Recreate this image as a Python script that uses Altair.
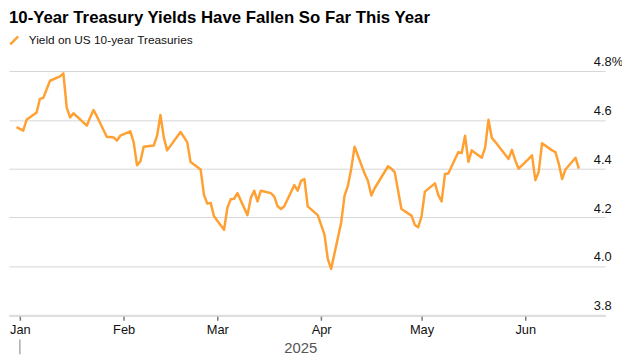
import altair as alt
import pandas as pd

dates = [
    "2024-12-31", "2025-01-02", "2025-01-03", "2025-01-06", "2025-01-07", "2025-01-08",
    "2025-01-10", "2025-01-13", "2025-01-14", "2025-01-15", "2025-01-16", "2025-01-17",
    "2025-01-21", "2025-01-22", "2025-01-23", "2025-01-24", "2025-01-27", "2025-01-28",
    "2025-01-29", "2025-01-30", "2025-01-31",
    "2025-02-03", "2025-02-04", "2025-02-05", "2025-02-06", "2025-02-07", "2025-02-10",
    "2025-02-11", "2025-02-12", "2025-02-13", "2025-02-14", "2025-02-18", "2025-02-19",
    "2025-02-20", "2025-02-21", "2025-02-24", "2025-02-25", "2025-02-26", "2025-02-27",
    "2025-02-28",
    "2025-03-03", "2025-03-04", "2025-03-05", "2025-03-06", "2025-03-07", "2025-03-10",
    "2025-03-11", "2025-03-12", "2025-03-13", "2025-03-14", "2025-03-17", "2025-03-18",
    "2025-03-19", "2025-03-20", "2025-03-21", "2025-03-24", "2025-03-25", "2025-03-26",
    "2025-03-27", "2025-03-28", "2025-03-31",
    "2025-04-01", "2025-04-02", "2025-04-03", "2025-04-04", "2025-04-07", "2025-04-08",
    "2025-04-09", "2025-04-10", "2025-04-11", "2025-04-14", "2025-04-15", "2025-04-16",
    "2025-04-17", "2025-04-21", "2025-04-22", "2025-04-23", "2025-04-24", "2025-04-25",
    "2025-04-28", "2025-04-29", "2025-04-30",
    "2025-05-01", "2025-05-02", "2025-05-05", "2025-05-06", "2025-05-07", "2025-05-08",
    "2025-05-09", "2025-05-12", "2025-05-13", "2025-05-14", "2025-05-15", "2025-05-16",
    "2025-05-19", "2025-05-20", "2025-05-21", "2025-05-22", "2025-05-23", "2025-05-27",
    "2025-05-28", "2025-05-29", "2025-05-30",
    "2025-06-02", "2025-06-03", "2025-06-04", "2025-06-05", "2025-06-06", "2025-06-09",
    "2025-06-10", "2025-06-11", "2025-06-12", "2025-06-13", "2025-06-16", "2025-06-17",
]

yields = [
    4.57, 4.556, 4.60, 4.63, 4.686, 4.69,
    4.76, 4.778, 4.79, 4.65, 4.61, 4.627,
    4.576, 4.61, 4.64, 4.615, 4.53, 4.53,
    4.528, 4.515, 4.535,
    4.553, 4.508, 4.414, 4.43, 4.49, 4.495,
    4.535, 4.62, 4.528, 4.475, 4.55, 4.53,
    4.508, 4.427, 4.397, 4.293, 4.257, 4.26,
    4.205,
    4.15, 4.24, 4.275, 4.277, 4.30, 4.21,
    4.28, 4.31, 4.266, 4.31, 4.30, 4.286,
    4.246, 4.235, 4.246, 4.333, 4.31, 4.35,
    4.358, 4.246, 4.21,
    4.17, 4.13, 4.03, 3.99, 4.18, 4.29,
    4.33, 4.40, 4.49, 4.38, 4.35, 4.29,
    4.32, 4.41, 4.40, 4.385, 4.31, 4.235,
    4.208, 4.17, 4.16,
    4.205, 4.306, 4.34, 4.293, 4.266, 4.378,
    4.38, 4.468, 4.464, 4.535, 4.428, 4.475,
    4.445, 4.486, 4.60, 4.526, 4.51, 4.44,
    4.477, 4.434, 4.40,
    4.44, 4.455, 4.353, 4.387, 4.504, 4.475,
    4.468, 4.42, 4.358, 4.397, 4.445, 4.40,
]

series_name = "Yield on US 10-year Treasuries"
y_ticks = [3.8, 4.0, 4.2, 4.4, 4.6, 4.8]
month_ticks = [1, 2, 3, 4, 5, 6]
year_marker = ["2025-01-01"]

W = 604
H = 247.5
ORANGE = "#FFA033"
LEGEND_Y = -37

df = pd.DataFrame({"date": dates, "yield": yields, "series": [series_name] * len(dates)})
marker_df = pd.DataFrame({"date": year_marker})

x_scale = alt.Scale(
    type="utc",
    domain=[
        alt.DateTime(year=2024, month=12, date=28, hours=18, utc=True),
        alt.DateTime(year=2025, month=6, date=24, hours=21, utc=True),
    ],
)

line = alt.Chart(df).mark_line(strokeWidth=2.5, strokeJoin="round").encode(
    x=alt.X(
        "date:T",
        scale=x_scale,
        axis=alt.Axis(
            values=[alt.DateTime(year=2025, month=m, date=1, utc=True) for m in month_ticks],
            format="%b",
            grid=False,
            domain=True,
            domainColor="#dedede",
            domainWidth=2,
            ticks=True,
            tickColor="#777777",
            tickWidth=1.5,
            tickSize=5,
            labelFont="Liberation Sans",
            labelFontSize=13,
            labelColor="#111111",
            labelPadding=3,
            title="2025",
            titleFont="Liberation Sans",
            titleFontSize=15,
            titleFontWeight="normal",
            titleColor="#555555",
            titleX=295,
            titleY=38,
            titleAlign="center",
            titleBaseline="alphabetic",
        ),
    ),
    y=alt.Y(
        "yield:Q",
        scale=alt.Scale(domain=[3.8, 4.8], nice=False, zero=False),
        axis=alt.Axis(
            orient="right",
            values=y_ticks,
            grid=True,
            gridColor="#d6d6d6",
            gridWidth=1,
            domain=False,
            ticks=False,
            labelExpr="datum.value == 4.8 ? '4.8%' : format(datum.value, '.1f')",
            labelAlign="left",
            labelBaseline="alphabetic",
            labelPadding=-12,
            labelOffset=-5.5,
            labelFont="Liberation Sans",
            labelFontSize=13,
            labelColor="#111111",
            title=None,
        ),
    ),
    color=alt.Color(
        "series:N",
        scale=alt.Scale(range=[ORANGE]),
        legend=alt.Legend(
            title=None,
            orient="none",
            legendX=-0.7,
            legendY=LEGEND_Y,
            symbolType="M-1,1L1,-1",
            symbolSize=64,
            symbolStrokeWidth=2.5,
            labelFont="Liberation Sans",
            labelFontSize=12,
            labelColor="#111111",
            labelOffset=8.7,
            labelLimit=400,
            padding=0,
        ),
    ),
)

marker = alt.Chart(marker_df).mark_rule(color="#aaaaaa", strokeWidth=1.5).encode(
    x=alt.X("date:T", scale=x_scale),
    y=alt.value(H + 24.5),
    y2=alt.value(H + 39.5),
)

chart = alt.layer(line, marker).properties(
    width=W,
    height=H,
    title=alt.TitleParams(
        text="10-Year Treasury Yields Have Fallen So Far This Year",
        font="Liberation Sans",
        fontSize=17,
        fontWeight="bold",
        color="#000000",
        anchor="start",
        frame="group",
        baseline="alphabetic",
        offset=12,
        dy=17.5,
    ),
    autosize=alt.AutoSizeParams(type="none"),
    padding={"left": 1, "top": 61.5, "right": 17, "bottom": 44},
).configure_view(stroke=None)

chart.save("out.html", embed_options={"renderer": "svg", "actions": False})
